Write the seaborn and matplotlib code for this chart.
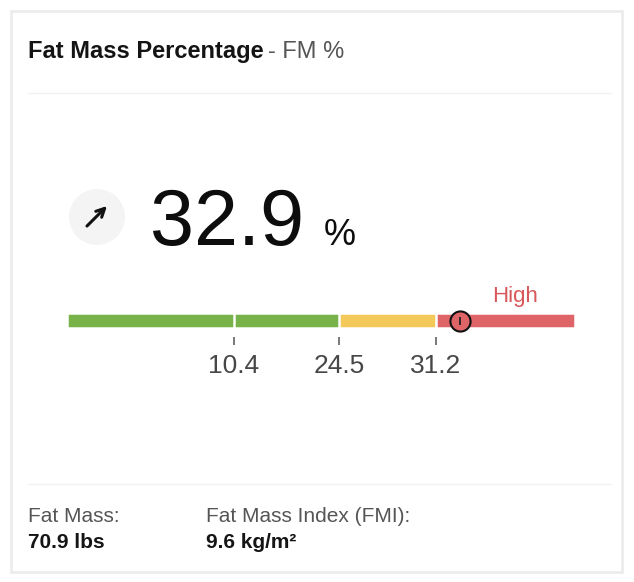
import numpy as np
import pandas as pd
import matplotlib
matplotlib.use("Agg")
import matplotlib.pyplot as plt
import matplotlib.patches as mpatches
import seaborn as sns

sns.set_theme(style="white")
plt.rcParams['font.family'] = ['Liberation Sans', 'DejaVu Sans']

# gauge data
bounds = [0, 10.4, 24.5, 31.2, 41.0]          # range limits of the fat mass % scale
seg_colors = ['#78b34a', '#78b34a', '#f3c95a', '#df6467']
tick_values = [10.4, 24.5, 31.2]
tick_labels = ['10.4', '24.5', '31.2']
fm_value = 32.9
fm_label = 'High'

fat_mass = '70.9 lbs'
fmi = '9.6 kg/m²'

# the gauge is piecewise: each range gets its own share of the bar (pixels)
knots = [0, 167, 272, 369, 508]


def fwd(v):
    return np.interp(v, bounds, knots)


def inv(p):
    return np.interp(p, knots, bounds)


fig = plt.figure(figsize=(6.34, 5.82), dpi=100)

# card background, drawn in pixel coords
card = fig.add_axes([0, 0, 1, 1])
card.set_xlim(0, 634)
card.set_ylim(582, 0)
card.axis('off')
card.add_patch(mpatches.Rectangle((11, 11), 611, 561, facecolor='white',
                                  edgecolor='#ececec', lw=2))
card.plot([28, 611], [93, 93], color='#f1f1f1', lw=1)
card.plot([28, 611], [484, 484], color='#f1f1f1', lw=1)

t = card.text(28, 58, 'Fat Mass Percentage', fontsize=17, fontweight='bold',
              color='#141414', va='baseline')
card.annotate('- FM %', xy=(1, 0), xycoords=t, xytext=(3, 0),
              textcoords='offset points', va='bottom', fontsize=17, color='#555555')

# trend icon
card.add_patch(mpatches.Circle((97, 217), 28, facecolor='#f4f4f4', edgecolor='none'))
card.annotate('', xy=(109, 204), xytext=(85, 228),
              arrowprops=dict(arrowstyle='->', lw=2.2, color='#111111', mutation_scale=15))

card.text(150, 245, f'{fm_value}', fontsize=57, color='#0d0d0d', va='baseline')
card.text(324, 245, '%', fontsize=26, color='#0d0d0d', va='baseline')
card.text(515, 302, fm_label, fontsize=16, color='#d9585c', va='baseline', ha='center')

card.text(28, 522, 'Fat Mass:', fontsize=15, color='#555555', va='baseline')
card.text(28, 548, fat_mass, fontsize=15, fontweight='bold', color='#151515', va='baseline')
card.text(206, 522, 'Fat Mass Index (FMI):', fontsize=15, color='#555555', va='baseline')
card.text(206, 548, fmi, fontsize=15, fontweight='bold', color='#151515', va='baseline')

# gauge bar axes: pixel box x 67..575, y 305..337
W, H = 634, 582
ax = fig.add_axes([67 / W, (H - 337) / H, 508 / W, 32 / H])
ax.set_xscale('function', functions=(fwd, inv))

seg = pd.DataFrame({'upper': bounds[1:], 'color': seg_colors, 'name': 'FM'})
# layer from the longest range down so every boundary gets a white gap
for _, row in seg.iloc[::-1].iterrows():
    sns.barplot(x=[row['upper']], y=[row['name']], orient='h', color=row['color'],
                saturation=1, width=0.8, edgecolor='white', linewidth=1.8, ax=ax)

ax.plot([fm_value], [0], 'o', ms=14.5, mfc=seg_colors[-1], mec='#111111', mew=1.5,
        clip_on=False, zorder=5)
ax.plot([fm_value], [0], '|', ms=5.5, mec='#222222', mew=1.3, clip_on=False, zorder=6)

ax.set_xlim(bounds[0], bounds[-1])
ax.set_ylim(0.85, -0.8)
ax.set_xticks(tick_values)
ax.set_xticklabels(tick_labels)
ax.set_yticks([])
ax.set_xlabel('')
ax.set_ylabel('')
ax.tick_params(axis='x', direction='out', length=6, width=1.1, color='#555555',
               labelsize=19, labelcolor='#474747', pad=6, bottom=True)
for s in ax.spines.values():
    s.set_visible(False)
ax.patch.set_alpha(0)

fig.savefig('out.png', dpi=100)
